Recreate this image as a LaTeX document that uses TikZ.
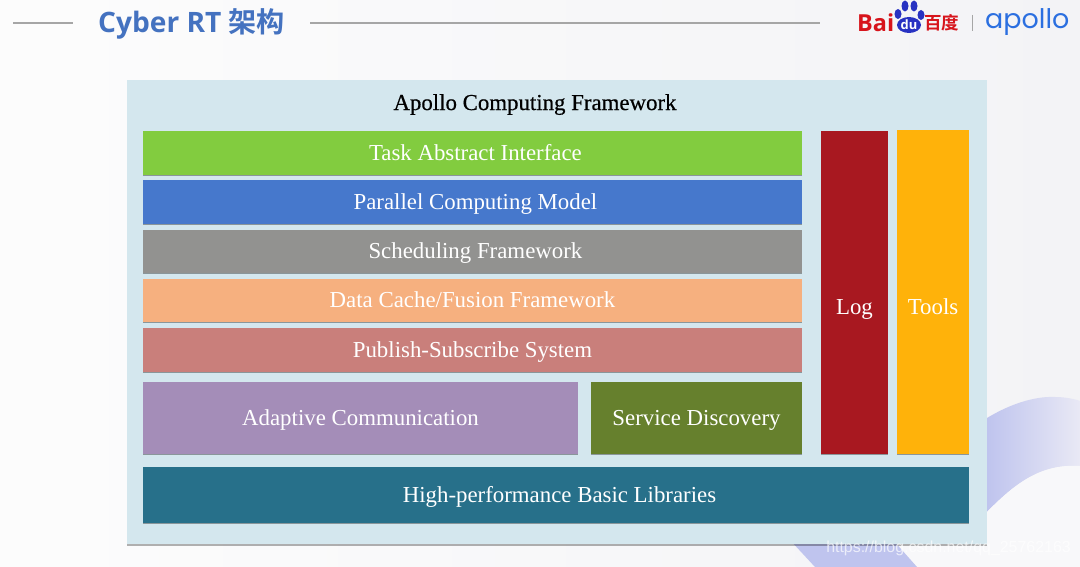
\documentclass[tikz,border=0pt]{standalone}
\usepackage{xcolor}
\usepackage{fontspec}
\setmainfont{Liberation Serif}
\setsansfont{Open Sans}
\newfontfamily\cjk{Noto Sans CJK SC}[BoldFont={Noto Sans CJK SC Bold}]
\newfontfamily\logofont{Poppins}
\newfontfamily\markfont{Liberation Sans}
\newfontfamily\headfont{Liberation Serif}[FakeBold=0.5]
\usetikzlibrary{shadows}

\definecolor{titleblue}{HTML}{4472C0}
\definecolor{framefill}{HTML}{D4E7EE}
\definecolor{taskgreen}{HTML}{82CC3F}
\definecolor{parallelblue}{HTML}{4678CC}
\definecolor{schedgray}{HTML}{929290}
\definecolor{cacheorange}{HTML}{F6B07F}
\definecolor{pubred}{HTML}{C97F7B}
\definecolor{adaptpurple}{HTML}{A48DB8}
\definecolor{serviceolive}{HTML}{66802D}
\definecolor{logred}{HTML}{A81820}
\definecolor{toolsyellow}{HTML}{FFB20A}
\definecolor{libteal}{HTML}{27708A}
\definecolor{baidured}{HTML}{D7141C}
\definecolor{baidublue}{HTML}{2832C2}
\definecolor{apolloblue}{HTML}{2B6FE0}
\definecolor{bglavender}{HTML}{BFC4EE}
\definecolor{bgpale}{HTML}{E9E9F5}
\definecolor{bgright}{HTML}{F3F3F6}

\tikzset{
    layer/.style={rectangle, inner sep=0pt, text=white, align=center,
        text height=16pt, text depth=4pt,
        font=\fontsize{19.5}{22}\selectfont,
        drop shadow={shadow xshift=0pt, shadow yshift=-1.2pt, fill=black, opacity=0.35}},
    rule/.style={draw=gray!70, line width=1.2pt}
}

\begin{document}
\begin{tikzpicture}[x=0.03cm, y=-0.03cm]
    \useasboundingbox (0,0) rectangle (1080,567);

    % Background
    \shade[left color=white!98!gray, right color=bgright] (0,0) rectangle (1080,567);
    \shade[left color=bglavender, right color=bgpale] (987,418) .. controls (1010,404) and (1035,396) .. (1055,397) .. controls (1065,397) and (1075,399) .. (1080,401) -- (1080,466) .. controls (1045,464) and (1020,478) .. (987,512) -- cycle;
    \fill[bgright!60!white] (987,512) .. controls (1020,478) and (1045,464) .. (1080,466) -- (1080,567) -- (917,567) -- (893,540) -- (987,540) -- cycle;
    \fill[bglavender] (790,540) -- (893,540) -- (917,567) -- (815,567) -- cycle;

    % Title
    \node[text=titleblue, anchor=west, inner sep=0pt, font=\sffamily\bfseries\fontsize{24}{28}\selectfont] (title) at (98,24) {Cyber RT {\cjk\bfseries 架构}};
    \coordinate (ruleA) at (13,23);
    \coordinate (ruleB) at (73,23);
    \coordinate (ruleC) at (310,23);
    \coordinate (ruleD) at (820,23);
    \draw[rule] (ruleA) -- (ruleB);
    \draw[rule] (ruleC) -- (ruleD);

    % Logos
    \node[text=baidured, anchor=west, inner sep=0pt, font=\sffamily\bfseries\fontsize{20}{22}\selectfont] (bai) at (857,23) {Bai};
    \fill[baidublue] (905,6) ellipse (3.5 and 5.5);
    \fill[baidublue] (914,6) ellipse (3.5 and 5.5);
    \fill[baidublue] (898,14) ellipse (3.5 and 5);
    \fill[baidublue] (921,15) ellipse (3.5 and 5);
    \fill[baidublue] (909,25) ellipse (12 and 8);
    \node[text=white, inner sep=0pt, font=\sffamily\bfseries\fontsize{11}{12}\selectfont] (du) at (909,25) {du};
    \node[text=baidured, anchor=west, inner sep=0pt, font=\cjk\bfseries\fontsize{15}{18}\selectfont] (baidu) at (924,23) {百度};
    \coordinate (sepA) at (972,15);
    \coordinate (sepB) at (972,31);
    \draw[gray!70, line width=0.7pt] (sepA) -- (sepB);
    \node[text=apolloblue, anchor=west, inner sep=0pt, font=\logofont\fontsize{23}{26}\selectfont] (apollo) at (985,22) {apollo};

    % Frame
    \node[rectangle, fill=framefill, minimum width=25.8cm, minimum height=13.92cm, inner sep=0pt,
        drop shadow={shadow xshift=0pt, shadow yshift=-1.5pt, fill=black, opacity=0.3}] (frame) at (557,312) {};
    \node[text=black, inner sep=0pt, text height=16pt, text depth=4pt, font=\headfont\fontsize{19.5}{24}\selectfont] (apf) at (535,103) {Apollo Computing Framework};

    % Layers
    \node[layer, fill=taskgreen, minimum width=19.77cm, minimum height=1.32cm] (task) at (472.5,153) {\hspace*{5pt}Task Abstract Interface};
    \node[layer, fill=parallelblue, minimum width=19.77cm, minimum height=1.32cm] (parallel) at (472.5,202) {\hspace*{5pt}Parallel Computing Model};
    \node[layer, fill=schedgray, minimum width=19.77cm, minimum height=1.29cm] (sched) at (472.5,251.5) {\hspace*{5pt}Scheduling Framework};
    \node[layer, fill=cacheorange, minimum width=19.77cm, minimum height=1.29cm] (cache) at (472.5,300.5) {Data Cache/Fusion Framework};
    \node[layer, fill=pubred, minimum width=19.77cm, minimum height=1.32cm] (pub) at (472.5,350) {Publish-Subscribe System};

    % Communication
    \node[layer, fill=adaptpurple, minimum width=13.05cm, minimum height=2.16cm] (adapt) at (360.5,418) {Adaptive Communication};
    \node[layer, fill=serviceolive, minimum width=6.33cm, minimum height=2.16cm] (service) at (696.5,418) {Service Discovery};

    % Side columns
    \node[layer, fill=logred, minimum width=2.01cm, minimum height=9.69cm] (log) at (854.5,292.5) {\raisebox{-13pt}[16pt][4pt]{Log}};
    \node[layer, fill=toolsyellow, minimum width=2.16cm, minimum height=9.72cm] (tools) at (933,292) {\raisebox{-13pt}[16pt][4pt]{Tools}};

    % Libraries
    \node[layer, fill=libteal, minimum width=24.78cm, minimum height=1.68cm] (libs) at (556,495) {\hspace*{6pt}High-performance Basic Libraries};

    % Watermark
    \node[text=white, opacity=0.7, anchor=east, inner sep=0pt, font=\markfont\fontsize{13.6}{18}\selectfont] (mark) at (1071,548) {https://blog.csdn.net/qq\_25762163};
\end{tikzpicture}
\end{document}
